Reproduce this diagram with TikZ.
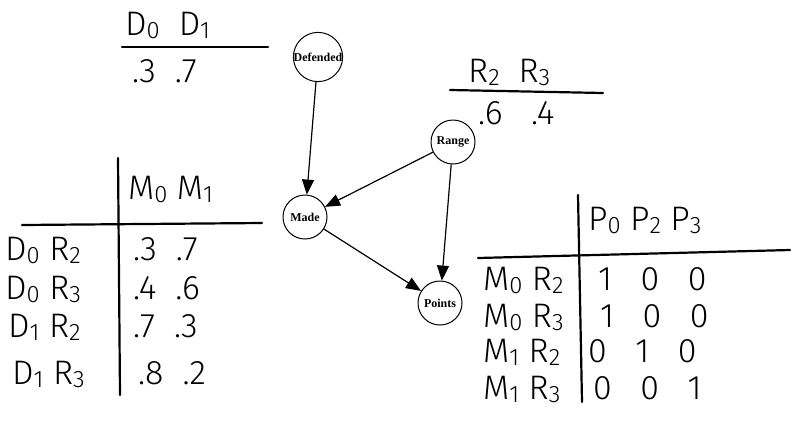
\documentclass[tikz,border=0pt]{standalone}
\usepackage{fontspec}
\setmainfont{Liberation Serif}
\newfontfamily\hand{Fira Sans Light}
\usetikzlibrary{arrows.meta}
\newcommand{\sbx}[1]{\raisebox{-0.1em}{\scalebox{0.7}{#1}}}
\begin{document}
\begin{tikzpicture}[x=1pt,y=-1pt,
  bn/.style={circle,draw,line width=1pt,minimum size=44pt,inner sep=0pt,font=\fontsize{12}{12}\selectfont\bfseries},
  edge/.style={-{Triangle[length=15pt,width=12pt]},line width=1.2pt},
  hw/.style={font=\hand\fontsize{34}{34}\selectfont,anchor=base west,inner sep=0pt},
  tl/.style={line width=2.2pt,line cap=round}]
\useasboundingbox (0,0) rectangle (794,424);
\node[bn] (def) at (318,57) {Defended};
\node[bn] (rng) at (453,142) {Range};
\node[bn] (made) at (305,217) {Made};
\node[bn] (pts) at (440,303) {Points};
\draw[edge] (def) -- (made);
\draw[edge] (rng) -- (made);
\draw[edge] (rng) -- (pts);
\draw[edge] (made) -- (pts);
% Defended table
\node[hw] (dh) at (125,35) {D\sbx{0}\ \ D\sbx{1}};
\coordinate (d1) at (122,47); \coordinate (d2) at (268,47);
\draw[tl] (d1) -- (d2);
\node[hw] (dv) at (132,82) {.3\ \ .7};
% Range table
\node[hw] (rh) at (468,82) {R\sbx{2}\ \ R\sbx{3}};
\coordinate (r1) at (450,90); \coordinate (r2) at (603,93);
\draw[tl] (r1) -- (r2);
\node[hw] (rv) at (478,124) {.6\ \ \ .4};
% Made table
\coordinate (mv1) at (118,158); \coordinate (mv2) at (120,395);
\coordinate (mh1) at (22,225); \coordinate (mh2) at (262,223);
\draw[tl] (mv1) -- (mv2);
\draw[tl] (mh1) -- (mh2);
\node[hw] (mh) at (128,199) {M\sbx{0} M\sbx{1}};
\node[hw] (m1) at (5,260) {D\sbx{0} R\sbx{2}};
\node[hw] (m2) at (5,299) {D\sbx{0} R\sbx{3}};
\node[hw] (m3) at (8,337) {D\sbx{1} R\sbx{2}};
\node[hw] (m4) at (12,384) {D\sbx{1} R\sbx{3}};
\node[hw] (m1v) at (133,260) {.3\ \ .7};
\node[hw] (m2v) at (133,299) {.4\ \ .6};
\node[hw] (m3v) at (133,337) {.7\ \ .3};
\node[hw] (m4v) at (138,384) {.8\ \ .2};
% Points table
\coordinate (pv1) at (578,195); \coordinate (pv2) at (582,402);
\coordinate (ph1) at (478,258); \coordinate (ph2) at (790,250);
\draw[tl] (pv1) -- (pv2);
\draw[tl] (ph1) -- (ph2);
\node[hw] (ph) at (588,230) {P\sbx{0}\ P\sbx{2}\ P\sbx{3}};
\node[hw] (p1) at (483,290) {M\sbx{0} R\sbx{2}};
\node[hw] (p2) at (483,327) {M\sbx{0} R\sbx{3}};
\node[hw] (p3) at (483,362) {M\sbx{1} R\sbx{2}};
\node[hw] (p4) at (483,399) {M\sbx{1} R\sbx{3}};
\node[hw] (p1v) at (598,290) {1\ \ \ 0\ \ \ 0};
\node[hw] (p2v) at (600,327) {1\ \ \ 0\ \ \ 0};
\node[hw] (p3v) at (588,362) {0\ \ \ 1\ \ \ 0};
\node[hw] (p4v) at (593,399) {0\ \ \ 0\ \ \ 1};
\end{tikzpicture}
\end{document}
